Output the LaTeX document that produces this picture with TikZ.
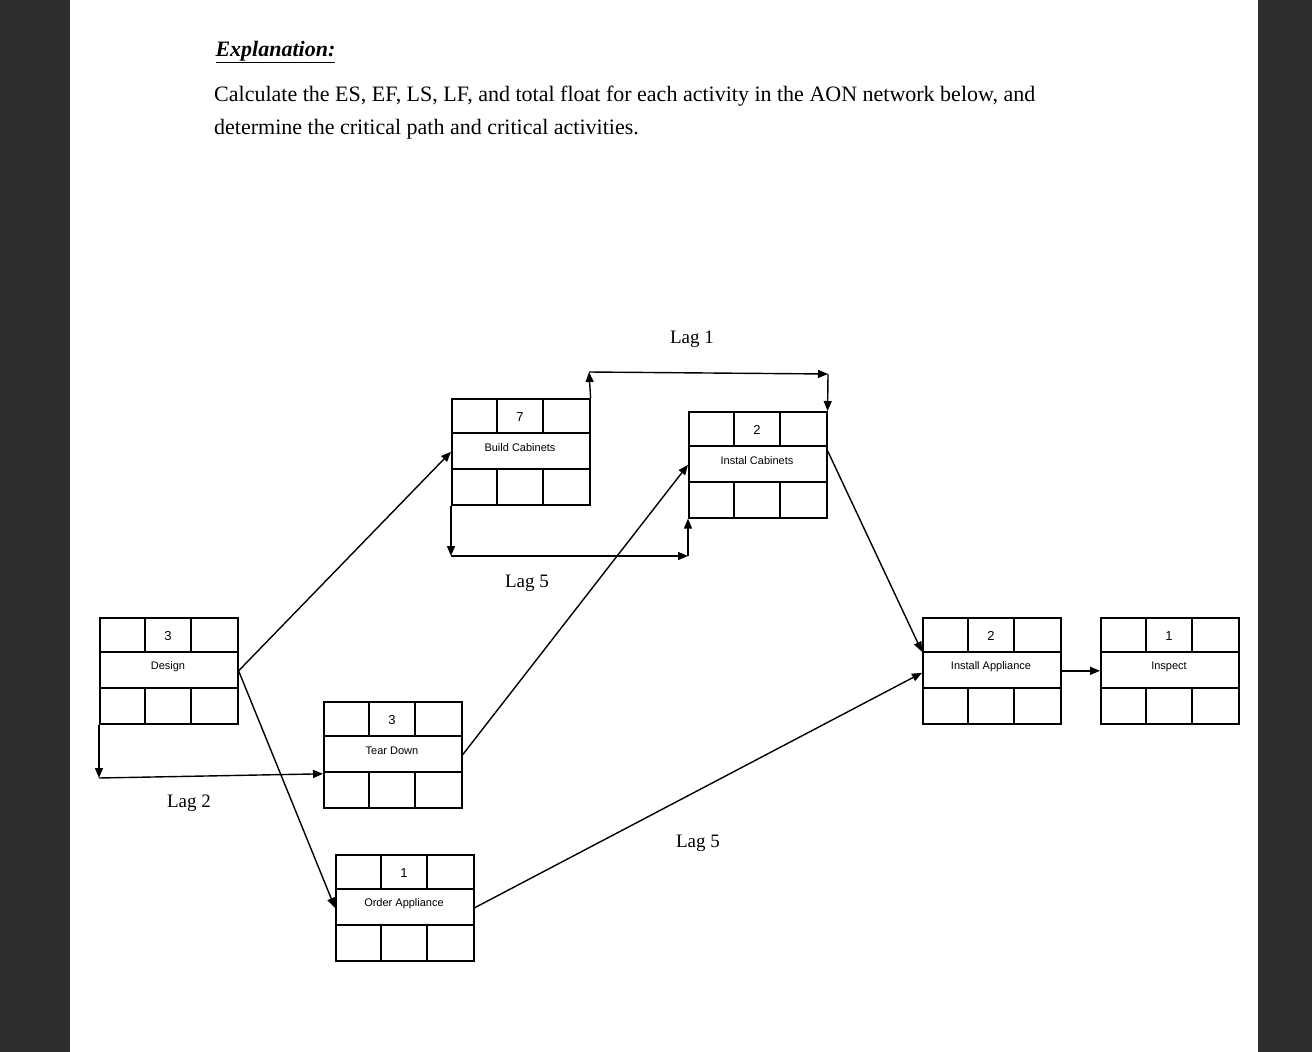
\documentclass[tikz,border=0pt]{standalone}
\usepackage{fontspec}
\setmainfont{Liberation Serif}
\newfontfamily\boxfont{Liberation Sans}
\usetikzlibrary{arrows.meta}
\newcommand\actbox[5]{%
  \node[draw, line width=1.6pt, minimum width=138pt, minimum height=106pt, anchor=north west, inner sep=0pt] (#1) at (#2,#3) {};
  \draw[line width=1.6pt] (#2,#3+35) -- ++(138,0) (#2,#3+71) -- ++(138,0)
     (#2+46,#3) -- ++(0,35) (#2+92,#3) -- ++(0,35)
     (#2+46,#3+71) -- ++(0,35) (#2+92,#3+71) -- ++(0,35);
  \node[font=\boxfont\fontsize{13pt}{15pt}\selectfont] (#1-d) at (#2+69,#3+19) {#4};
  \node[font=\boxfont\fontsize{11pt}{13pt}\selectfont] (#1-l) at (#2+69,#3+50) {#5};
}
\tikzset{arr/.style={line width=1.4pt, -{Triangle[length=10pt,width=8pt]}},
  lag/.style={font=\fontsize{19pt}{22pt}\selectfont}}
\begin{document}
\begin{tikzpicture}[x=1pt,y=-1pt]
\fill[black!82] (0,0) rectangle (1312,1052);
\fill[white] (70,0) rectangle (1258,1052);
\useasboundingbox (0,0) rectangle (1312,1052);
\node[anchor=west, font=\fontsize{22pt}{26pt}\selectfont\bfseries\itshape] (ex) at (212,52) {\underline{Explanation:}};
\node[anchor=north west, align=left, font=\fontsize{22pt}{33pt}\selectfont, inner sep=0pt] (para) at (214,86)
 {Calculate the ES, EF, LS, LF, and total float for each activity in the AON network below, and\\determine the critical path and critical activities.};
\actbox{design}{99}{617}{3}{Design}
\actbox{build}{451}{398}{7}{Build Cabinets}
\actbox{inst}{688}{411}{2}{Instal Cabinets}
\actbox{tear}{323}{701}{3}{Tear Down}
\actbox{oa}{335}{854}{1}{Order Appliance}
\actbox{iapp}{922}{617}{2}{Install Appliance}
\actbox{insp}{1100}{617}{1}{Inspect}
\coordinate (b1) at (451,556); \coordinate (b2) at (688,556);
\coordinate (c1) at (589,372); \coordinate (c2) at (828,374);
\coordinate (d1) at (99,778);
\draw[arr] (design.east) -- (build.west);
\draw[arr] (design.east) -- (oa.west);
\draw[arr] (design.south west) -- (d1);
\draw[arr] (d1) -- ([yshift=-19pt]tear.west);
\draw[arr] (tear.east) -- (inst.west);
\draw[arr] (build.south west) -- (b1);
\draw[arr] (b1) -- (b2);
\draw[arr] (b2) -- (inst.south west);
\draw[arr] (build.north east) -- (c1);
\draw[arr] (c1) -- (c2);
\draw[arr] (c2) -- (inst.north east);
\draw[arr] ([yshift=14pt]inst.east) -- ([yshift=19pt]iapp.west);
\draw[arr] (oa.east) -- ([yshift=-2pt]iapp.west);
\draw[arr] (iapp.east) -- (insp.west);
\node[lag] (l1) at (692,339) {Lag 1};
\node[lag] (l5a) at (527,583) {Lag 5};
\node[lag] (l2) at (189,803) {Lag 2};
\node[lag] (l5b) at (698,843) {Lag 5};
\end{tikzpicture}
\end{document}
